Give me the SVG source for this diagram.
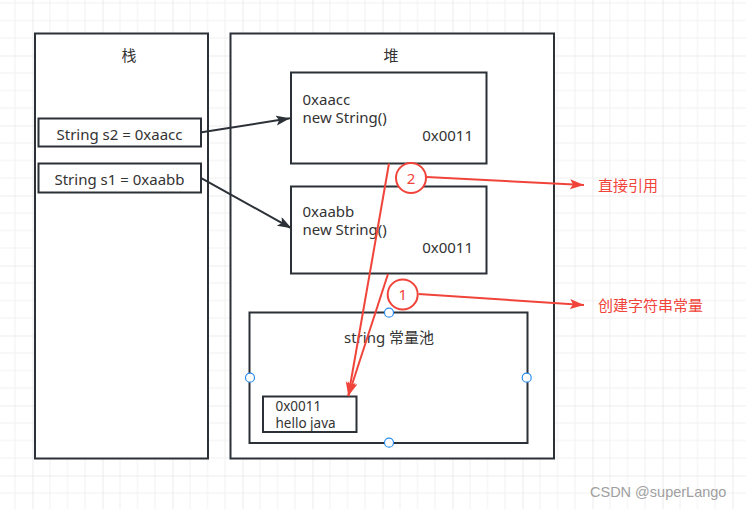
<svg xmlns="http://www.w3.org/2000/svg" width="746" height="509" viewBox="0 0 746 509">
<defs>
<pattern id="grid" patternUnits="userSpaceOnUse" x="32.5" y="55.5" width="70" height="70">
<path d="M17.5 0V70M35 0V70M52.5 0V70M0 17.5H70M0 35H70M0 52.5H70" stroke="#f1f1f1" stroke-width="1" fill="none"/>
<path d="M0 0V70M0 0H70" stroke="#e6e6e6" stroke-width="1.6" fill="none"/>
</pattern>
<marker id="ab" markerUnits="userSpaceOnUse" markerWidth="16" markerHeight="12" refX="14" refY="5" orient="auto" viewBox="0 0 16 12">
<path d="M0 0L14 5L0 10L3 5z" fill="#2b3137"/>
</marker>
<marker id="ar" markerUnits="userSpaceOnUse" markerWidth="16" markerHeight="12" refX="14" refY="5" orient="auto" viewBox="0 0 16 12">
<path d="M0 0L14 5L0 10L3 5z" fill="#f0443a"/>
</marker>
</defs>
<style>
.box{fill:#fff;stroke:#2b3137;stroke-width:2}
.t{font-family:"Noto Sans","Noto Sans CJK SC",sans-serif;font-size:15px;fill:#333}
.s{font-size:13.5px}
.r{font-family:"Noto Sans","Noto Sans CJK SC",sans-serif;font-size:15px;fill:#f0443a}
.mid{text-anchor:middle}
.end{text-anchor:end}
.rc{fill:#fff;stroke:#f0443a;stroke-width:2}
.rl{fill:none;stroke:#f0443a;stroke-width:2}
.bl{fill:none;stroke:#2b3137;stroke-width:2}
.h{fill:#fff;stroke:#2a8cf0;stroke-width:1.2}
</style>
<rect width="746" height="509" fill="#fff"/>
<rect width="746" height="509" fill="url(#grid)"/>

<g id="stack">
<rect class="box" x="35" y="33.5" width="173" height="425"/>
<text class="t mid" x="129" y="61">栈</text>
</g>
<g id="heap">
<rect class="box" x="230.5" y="33.5" width="323.5" height="425"/>
<text class="t mid" x="391" y="61">堆</text>
</g>
<g id="s2">
<rect class="box" x="38.5" y="118.5" width="162.5" height="28"/>
<text class="t mid" x="119.5" y="140">String s2 = 0xaacc</text>
</g>
<g id="s1">
<rect class="box" x="38.5" y="163.5" width="162.5" height="29"/>
<text class="t mid" x="119.5" y="185">String s1 = 0xaabb</text>
</g>
<g id="obj-aacc">
<rect class="box" x="291" y="72.5" width="195.5" height="91"/>
<text class="t" x="302.5" y="105">0xaacc</text>
<text class="t" x="302.5" y="123.3">new String()</text>
<text class="t end" x="473" y="141">0x0011</text>
</g>
<g id="obj-aabb">
<rect class="box" x="291" y="186.5" width="195.5" height="87"/>
<text class="t" x="302.5" y="216.7">0xaabb</text>
<text class="t" x="302.5" y="235">new String()</text>
<text class="t end" x="473" y="252.7">0x0011</text>
</g>
<g id="pool">
<rect class="box" x="249.5" y="312.5" width="278" height="130.5"/>
<text class="t mid" x="389" y="343">string 常量池</text>
</g>
<g id="hello">
<rect class="box" x="263" y="396.5" width="93.5" height="35.5"/>
<text class="t s" x="275.5" y="411">0x0011</text>
<text class="t s" x="275.5" y="428">hello java</text>
</g>

<g id="connectors">
<line class="bl" x1="201.7" y1="132.3" x2="290" y2="118.3" marker-end="url(#ab)"/>
<line class="bl" x1="201.7" y1="178.3" x2="291.5" y2="228.3" marker-end="url(#ab)"/>
<line class="rl" x1="389" y1="163.5" x2="348.3" y2="396" marker-end="url(#ar)"/>
<line class="rl" x1="388" y1="274" x2="348.3" y2="396" marker-end="url(#ar)"/>
<line class="rl" x1="426.5" y1="177" x2="584" y2="185" marker-end="url(#ar)"/>
<line class="rl" x1="418.5" y1="294" x2="584" y2="305" marker-end="url(#ar)"/>
</g>

<g id="handles">
<circle class="h" cx="389" cy="312.7" r="4.5"/>
<circle class="h" cx="250" cy="377.7" r="4.5"/>
<circle class="h" cx="526.7" cy="377.7" r="4.5"/>
<circle class="h" cx="389" cy="442.7" r="4.5"/>
</g>

<g id="mark2">
<circle class="rc" cx="411" cy="178" r="15"/>
<text class="r mid" x="411" y="183.5">2</text>
</g>
<g id="mark1">
<circle class="rc" cx="402.7" cy="294.5" r="15"/>
<text class="r mid" x="402.7" y="300">1</text>
</g>
<g id="label-direct">
<text class="r" x="598" y="190.5">直接引用</text>
</g>
<g id="label-create">
<text class="r" x="598" y="311">创建字符串常量</text>
</g>
<text x="590" y="497" font-family="Liberation Sans, sans-serif" font-size="14.5" fill="#a0a0a0">CSDN @superLango</text>
</svg>
